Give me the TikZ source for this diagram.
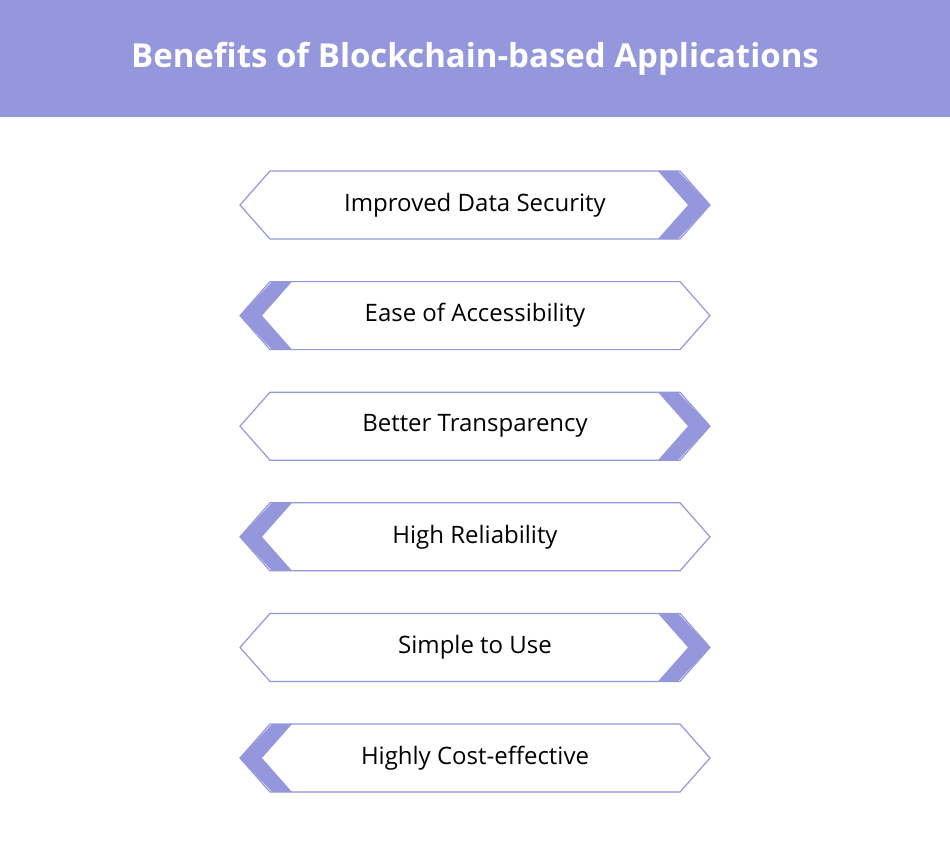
\documentclass[tikz,border=0pt]{standalone}
\usepackage{fontspec}
\setmainfont{Open Sans}
\usetikzlibrary{positioning}
\definecolor{lilac}{HTML}{9497DB}

\begin{document}
\begin{tikzpicture}[x=1pt, y=-1pt]
		
		\tikzset{
			label text/.style={font=\fontsize{24}{28}\selectfont, text=black},
			thin edge/.style={draw=lilac, line width=1.2pt, fill=white},
		}
		\useasboundingbox (0,0) rectangle (950,867);
		
		% Header band
		\fill[lilac] (0,0) rectangle (950,117);
		\node[text=white, font=\fontsize{33}{38}\selectfont\bfseries] (title) at (475,59) {Benefits of Blockchain-based Applications};
		
		% Benefit arrows, alternating direction
		\foreach \txt [count=\i] in {Improved Data Security, Ease of Accessibility, Better Transparency, High Reliability, Simple to Use, Highly Cost-effective} {
			\pgfmathsetmacro{\yc}{205+110.6*(\i-1)}
			\ifodd\i
				% pointing right
				\draw[thin edge] (240,\yc) -- (270,\yc-34) -- (680,\yc-34) -- (710,\yc) -- (680,\yc+34) -- (270,\yc+34) -- cycle;
				\fill[lilac] (658,\yc-34) -- (678,\yc-34) -- (710,\yc) -- (678,\yc+34) -- (658,\yc+34) -- (688,\yc) -- cycle;
			\else
				% pointing left
				\draw[thin edge] (710,\yc) -- (680,\yc-34) -- (270,\yc-34) -- (240,\yc) -- (270,\yc+34) -- (680,\yc+34) -- cycle;
				\fill[lilac] (292,\yc-34) -- (272,\yc-34) -- (240,\yc) -- (272,\yc+34) -- (292,\yc+34) -- (262,\yc) -- cycle;
			\fi
			\node[label text] (item\i) at (475,\yc) {\txt};
		}
		
	\end{tikzpicture}
\end{document}
